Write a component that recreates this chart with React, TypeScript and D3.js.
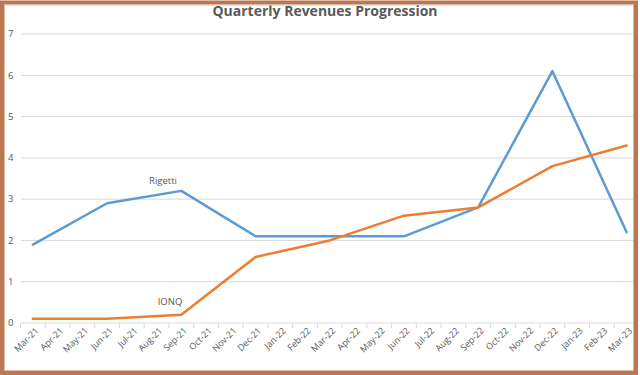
import React from "react";
import * as d3 from "d3";

const months = [
  "Mar-21","Apr-21","May-21","Jun-21","Jul-21","Aug-21","Sep-21","Oct-21","Nov-21","Dec-21",
  "Jan-22","Feb-22","Mar-22","Apr-22","May-22","Jun-22","Jul-22","Aug-22","Sep-22","Oct-22",
  "Nov-22","Dec-22","Jan-23","Feb-23","Mar-23",
];
const rigetti: (number | null)[] = [
  1.9,null,null,2.9,null,null,3.2,null,null,2.1,
  null,null,2.1,null,null,2.1,null,null,2.8,null,
  null,6.1,null,null,2.2,
];
const ionq: (number | null)[] = [
  0.1,null,null,0.1,null,null,0.2,null,null,1.6,
  null,null,2.0,null,null,2.6,null,null,2.8,null,
  null,3.8,null,null,4.3,
];
const yTicks = [0, 1, 2, 3, 4, 5, 6, 7];
const title = "Quarterly Revenues Progression";

const W = 640, H = 375;
const plotLeft = 21, plotRight = 639, plotTop = 34, plotBottom = 323;
const gridRight = 633;

export default function App() {
  const x = d3.scaleBand<string>().domain(months).range([plotLeft - 0.5, plotRight]);
  const cx = (m: string) => (x(m) as number) + x.bandwidth() / 2;
  const y = d3.scaleLinear().domain([0, 7]).range([plotBottom, plotTop]);
  const font = "'Open Sans', sans-serif";
  const textColor = "#595959";

  const mkLine = (vals: (number | null)[]) => {
    const pts = months
      .map((m, i) => ({ m, v: vals[i] }))
      .filter((d) => d.v !== null) as { m: string; v: number }[];
    return d3.line<{ m: string; v: number }>().x((d) => cx(d.m)).y((d) => y(d.v))(pts) || "";
  };

  return (
    <svg width={W} height={H} style={{ position: "absolute", left: 0, top: 0, background: "#fff" }}>
      <rect x={0} y={0} width={W} height={H} fill="#fff" />
      {yTicks.map((t) => (
        <g key={t}>
          <line x1={plotLeft} x2={gridRight} y1={y(t)} y2={y(t)} stroke="#D9D9D9" strokeWidth={1} />
          <text x={8} y={y(t)} dy="0.35em" fontFamily={font} fontSize={9.5} fill={textColor}>
            {t}
          </text>
        </g>
      ))}
      {months.map((m) => (
        <line key={"t" + m} x1={x(m) as number} x2={x(m) as number} y1={plotBottom} y2={plotBottom + 5} stroke="#D9D9D9" />
      ))}
      {months.map((m) => (
        <text
          key={"l" + m}
          transform={`translate(${cx(m) + 4},${plotBottom + 6}) rotate(-45)`}
          textAnchor="end"
          dy="0.35em"
          fontFamily={font}
          fontSize={9}
          fill={textColor}
        >
          {m}
        </text>
      ))}
      <path d={mkLine(rigetti)} fill="none" stroke="#5B9BD5" strokeWidth={2.5} strokeLinejoin="round" strokeLinecap="round" />
      <path d={mkLine(ionq)} fill="none" stroke="#ED7D31" strokeWidth={2.5} strokeLinejoin="round" strokeLinecap="round" />
      <text x={163} y={181} dy="0.35em" textAnchor="middle" fontFamily={font} fontSize={9.5} fill={textColor}>
        Rigetti
      </text>
      <text x={170} y={302} dy="0.35em" textAnchor="middle" fontFamily={font} fontSize={9.5} fill={textColor}>
        IONQ
      </text>
      <text x={325} y={16} textAnchor="middle" fontFamily={font} fontWeight="bold" fontSize={14} fill={textColor}>
        {title}
      </text>
      <rect x={2} y={2.5} width={634} height={370.5} fill="none" stroke="#BA7753" strokeWidth={4} />
      <rect x={4.5} y={5} width={629} height={365.5} fill="none" stroke="#E2B9A0" strokeWidth={1} />
    </svg>
  );
}
